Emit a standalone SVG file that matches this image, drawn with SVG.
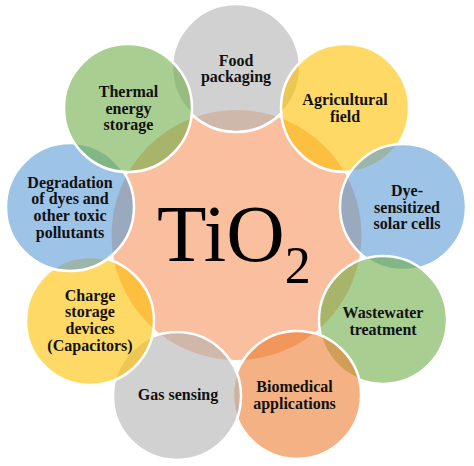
<svg xmlns="http://www.w3.org/2000/svg" width="474" height="466" viewBox="0 0 474 466">
<style>
.c{stroke:#fff;stroke-width:2.5}
.grey{fill:#b3b3b3;fill-opacity:0.6}
.yel{fill:#ffc000;fill-opacity:0.6}
.blue{fill:#5b9bd5;fill-opacity:0.6}
.green{fill:#70ad47;fill-opacity:0.6}
.orange{fill:#ed7d31;fill-opacity:0.6}
.t{font-family:"Liberation Serif","Times New Roman",serif;font-weight:bold;font-size:16px;fill:#111;text-anchor:middle}
.big{font-family:"Liberation Serif","Times New Roman",serif;font-size:81px;fill:#000}
</style>
<rect width="474" height="466" fill="#fff"/>
<g id="center">
<circle cx="236.5" cy="235" r="126" fill="#f9bf9f" stroke="#fff" stroke-width="2"/>
</g>
<g id="food">
<circle class="c grey" cx="236" cy="68" r="64"/>
<text class="t" x="236" y="65.5">Food</text>
<text class="t" x="236" y="82">packaging</text>
</g>
<g id="agricultural">
<circle class="c yel" cx="345" cy="108" r="64"/>
<text class="t" x="345" y="105">Agricultural</text>
<text class="t" x="345" y="121.5">field</text>
</g>
<g id="dye">
<circle class="c blue" cx="403" cy="207" r="63"/>
<text class="t" x="407" y="196">Dye-</text>
<text class="t" x="407" y="212.5">sensitized</text>
<text class="t" x="407" y="229">solar cells</text>
</g>
<g id="wastewater">
<circle class="c green" cx="383" cy="320" r="64"/>
<text class="t" x="383" y="318">Wastewater</text>
<text class="t" x="383" y="334.5">treatment</text>
</g>
<g id="biomedical">
<circle class="c orange" cx="297" cy="395" r="64"/>
<text class="t" x="294.5" y="392">Biomedical</text>
<text class="t" x="294.5" y="408.5">applications</text>
</g>
<g id="gas">
<circle class="c grey" cx="177" cy="396" r="64"/>
<text class="t" x="178" y="400">Gas sensing</text>
</g>
<g id="charge">
<circle class="c yel" cx="90" cy="321" r="64"/>
<text class="t" x="90" y="300.5">Charge</text>
<text class="t" x="90" y="317">storage</text>
<text class="t" x="90" y="334">devices</text>
<text class="t" x="90" y="351">(Capacitors)</text>
</g>
<g id="degradation">
<circle class="c blue" cx="70" cy="207" r="64"/>
<text class="t" x="70" y="187.5">Degradation</text>
<text class="t" x="70" y="204">of dyes and</text>
<text class="t" x="70" y="221">other toxic</text>
<text class="t" x="70" y="237.5">pollutants</text>
</g>
<g id="thermal">
<circle class="c green" cx="128" cy="108" r="64"/>
<text class="t" x="128.5" y="97">Thermal</text>
<text class="t" x="128.5" y="113.5">energy</text>
<text class="t" x="128.5" y="130">storage</text>
</g>
<g id="title">
<text class="big" x="157" y="261">TiO<tspan font-size="52" dy="22">2</tspan></text>
</g>
<g id="connectors"/>
</svg>
